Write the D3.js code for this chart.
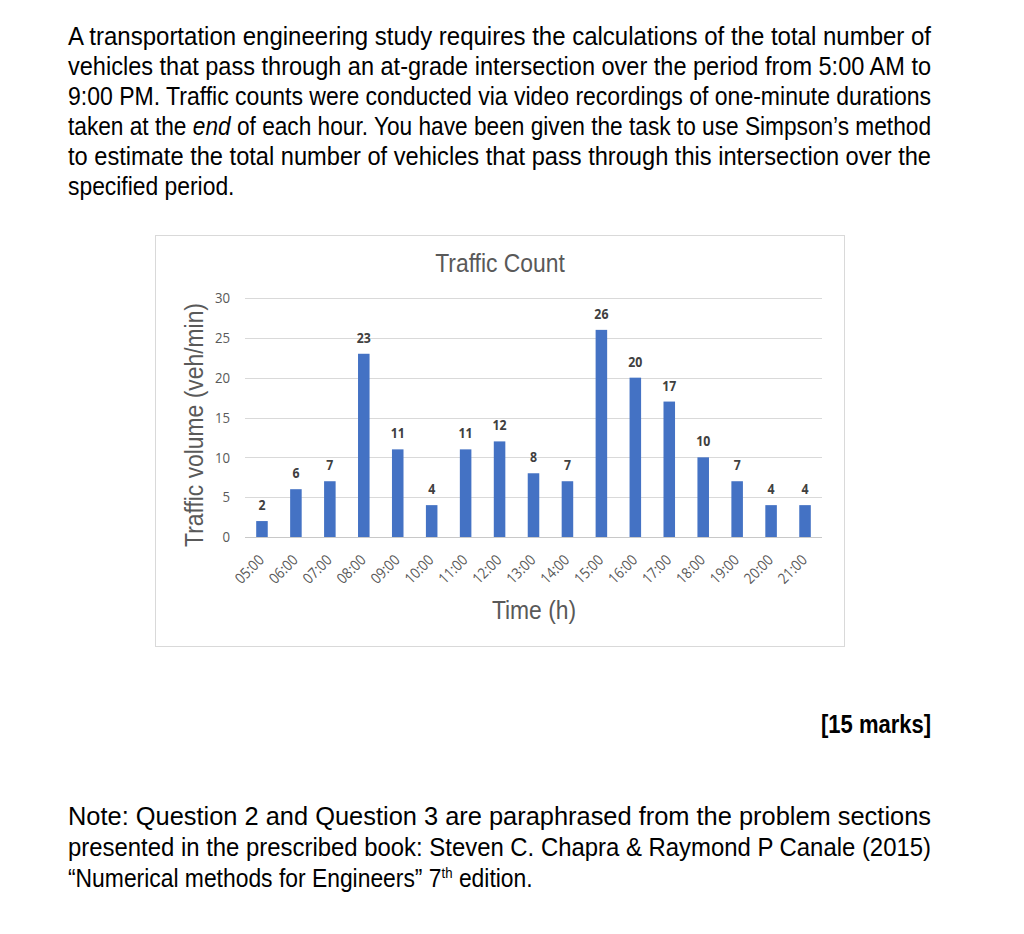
<!DOCTYPE html>
<html>
<head>
<meta charset="utf-8">
<script src="https://cdn.jsdelivr.net/npm/d3@7"></script>
<style>
  body { margin: 0; background: #fff; }
  svg { display: block; }
</style>
</head>
<body>
<svg id="page" width="1024" height="934"></svg>
<script>
// question text, line by line ("|...|" = italic)
var introLines = [
    "A transportation engineering study requires the calculations of the total number of",
    "vehicles that pass through an at-grade intersection over the period from 5:00 AM to",
    "9:00 PM. Traffic counts were conducted via video recordings of one-minute durations",
    "taken at the |end| of each hour. You have been given the task to use Simpson\u2019s method",
    "to estimate the total number of vehicles that pass through this intersection over the",
    "specified period."
];
var noteLines = [
    "Note: Question 2 and Question 3 are paraphrased from the problem sections",
    "presented in the prescribed book: Steven C. Chapra & Raymond P Canale (2015)"
];

// chart data
var hours = ["05:00", "06:00", "07:00", "08:00", "09:00", "10:00", "11:00", "12:00", "13:00",
             "14:00", "15:00", "16:00", "17:00", "18:00", "19:00", "20:00", "21:00"];
var counts = [2, 6, 7, 23, 11, 4, 11, 12, 8, 7, 26, 20, 17, 10, 7, 4, 4];
var yTicks = [0, 5, 10, 15, 20, 25, 30];

var svg = d3.select("#page");
var textFont = "'Liberation Sans', Arial, sans-serif";
var chartFont = "'Open Sans', 'Noto Sans', sans-serif";
var k = 0.88;            // the whole scan is a bit squeezed sideways
var left = 68, right = 931;

/*
 * text placed at (px,py) and squeezed horizontally
 */
function squeezed(px, py, extra) {
    return svg.append("text")
        .attr("transform", "translate(" + px + "," + py + ")" + (extra || "") + " scale(" + k + ",1)");
}

/*
 * writes one line of body text, justified if asked
 */
function writeLine(y, line, justify) {
    var t = squeezed(left, y)
        .style("font-family", textFont)
        .style("font-size", "26px")
        .style("fill", "#000");
    line.split("|").forEach(function (part, i) {
        t.append("tspan").text(part).style("font-style", i % 2 ? "italic" : "normal");
    });
    if (justify)
        t.attr("textLength", (right - left) / k).attr("lengthAdjust", "spacingAndGlyphs");
    return t;
}

introLines.forEach(function (l, i) {
    writeLine(45 + i * 30, l, i < introLines.length - 1);
});

squeezed(right, 733)
    .attr("text-anchor", "end")
    .style("font-family", textFont).style("font-size", "25px").style("font-weight", "bold")
    .text("[15 marks]");

noteLines.forEach(function (l, i) {
    writeLine(825 + i * 31, l, true);
});
var last = writeLine(887, "\u201cNumerical methods for Engineers\u201d 7", false);
last.append("tspan").attr("dy", -9).style("font-size", "15px").text("th");
last.append("tspan").attr("dy", 9).text(" edition.");

// ---- chart ----
var box = {x: 155, y: 235, w: 689, h: 411};
svg.append("rect")
    .attr("x", box.x + 0.5).attr("y", box.y + 0.5)
    .attr("width", box.w).attr("height", box.h)
    .style("fill", "#fff").style("stroke", "#d9d9d9");

var x = d3.scaleBand().domain(hours).range([245, 822]).paddingInner(0.66).paddingOuter(0.33);
var y = d3.scaleLinear().domain([0, 30]).range([537, 298]);

squeezed(500, 272)
    .attr("text-anchor", "middle")
    .style("font-family", textFont).style("font-size", "26px").style("fill", "#595959")
    .text("Traffic Count");

// gridlines
svg.append("g").selectAll("line").data(yTicks).enter().append("line")
    .attr("x1", 245).attr("x2", 822)
    .attr("y1", function (d) { return Math.round(y(d)) + 0.5; })
    .attr("y2", function (d) { return Math.round(y(d)) + 0.5; })
    .style("stroke", function (d) { return d === 0 ? "#c8c8c8" : "#d9d9d9"; });

// y axis labels
var yAxis = svg.append("g")
    .attr("transform", "translate(230,0)")
    .call(d3.axisLeft(y).tickValues(yTicks).tickSize(0).tickPadding(0));
yAxis.select(".domain").remove();
yAxis.selectAll("text")
    .attr("transform", "scale(" + k + ",1)")
    .style("font-family", chartFont).style("font-size", "15px").style("fill", "#595959");

// bars
svg.append("g").selectAll("rect").data(counts).enter().append("rect")
    .attr("x", function (d, i) { return x(hours[i]); })
    .attr("y", function (d) { return y(d); })
    .attr("width", x.bandwidth())
    .attr("height", function (d) { return y(0) - y(d); })
    .style("fill", "#4472c4");

// value labels
counts.forEach(function (d, i) {
    squeezed(x(hours[i]) + x.bandwidth() / 2, y(d) - 11)
        .attr("text-anchor", "middle")
        .style("font-family", chartFont).style("font-size", "14px").style("font-weight", "bold")
        .style("fill", "#404040")
        .text(d);
});

// x axis labels, rotated
var xAxis = svg.append("g")
    .attr("transform", "translate(0,537)")
    .call(d3.axisBottom(x).tickSize(0).tickPadding(0));
xAxis.select(".domain").remove();
xAxis.selectAll("text")
    .attr("text-anchor", "end")
    .attr("dy", 0)
    .attr("transform", "translate(3,24) rotate(-45) scale(" + k + ",1)")
    .style("font-family", chartFont).style("font-size", "15px").style("fill", "#595959");

squeezed(534, 619)
    .attr("text-anchor", "middle")
    .style("font-family", textFont).style("font-size", "26px").style("fill", "#595959")
    .text("Time (h)");

svg.append("text")
    .attr("transform", "translate(203,425) rotate(-90) scale(" + k + ",1)")
    .attr("text-anchor", "middle")
    .style("font-family", textFont).style("font-size", "26px").style("fill", "#595959")
    .text("Traffic volume (veh/min)");
</script>
</body>
</html>
